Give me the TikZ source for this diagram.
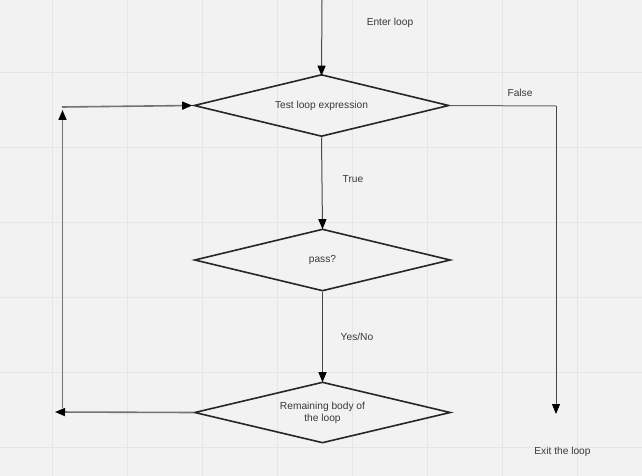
\documentclass[tikz,border=0pt]{standalone}
\usepackage{fontspec}
\setmainfont{Liberation Sans}
\usetikzlibrary{shapes.geometric,arrows.meta}
\begin{document}
\begin{tikzpicture}[x=1pt,y=-1pt,
  dia/.style={draw=black!85,line width=1.6pt,shape=diamond,inner sep=0pt,
    minimum width=256pt,minimum height=62pt,aspect=4.13,
    font=\fontsize{10.2}{12}\selectfont,text=black!78,align=center},
  lbl/.style={font=\fontsize{10.2}{12}\selectfont,text=black!78,inner sep=0pt,anchor=base},
  conn/.style={draw=black!72,line width=1pt,-{Triangle[length=10pt,width=8pt,fill=black,color=black]}},
  connL/.style={draw=black!55,line width=1.6pt,-{Triangle[length=10pt,width=8pt,fill=black,color=black]}},
  plain/.style={draw=black!60,line width=1pt}]
\fill[black!5] (0,0) rectangle (642,476);
\useasboundingbox (0,0) rectangle (642,476);
\foreach \gx in {52,127,202,277,352,427,502,577}
  \draw[black!10,line width=0.8pt] (\gx,0) -- (\gx,476);
\foreach \gy in {72,147,222,297,372,447}
  \draw[black!10,line width=0.8pt] (0,\gy) -- (642,\gy);

\node[dia,minimum width=255pt] (d1) at (321.5,105.5) {Test loop expression};
\node[dia] (d2) at (322.5,260) {pass?};
\node[dia,minimum height=61pt] (d3) at (322.5,412.5) {Remaining body of\\the loop};

\coordinate (top) at (322,0);
\coordinate (fa) at (556,106);
\coordinate (fb) at (556,414);
\coordinate (la) at (55,412);
\coordinate (lb) at (62.5,408);
\coordinate (lc) at (62.5,110);
\coordinate (ld) at (62,107);

\draw[conn] (top) -- ([yshift=-2pt]d1.north);
\draw[conn] (d1.south) -- ([yshift=-1pt]d2.north);
\draw[conn] (d2.south) -- ([yshift=-1pt]d3.north);
\draw[connL] (d3.west) -- (la);
\draw[connL] (lb) -- (lc);
\draw[connL] (ld) -- ([xshift=-1pt]d1.west);
\draw[plain] (d1.east) -- (fa);
\draw[conn] (fa) -- (fb);

\node[lbl] (enter) at (390,25.5) {Enter loop};
\node[lbl] (true) at (353,182) {True};
\node[lbl] (yesno) at (357,340) {Yes/No};
\node[lbl] (false) at (520,96.5) {False};
\node[lbl] (exit) at (562.5,454) {Exit the loop};
\end{tikzpicture}
\end{document}
